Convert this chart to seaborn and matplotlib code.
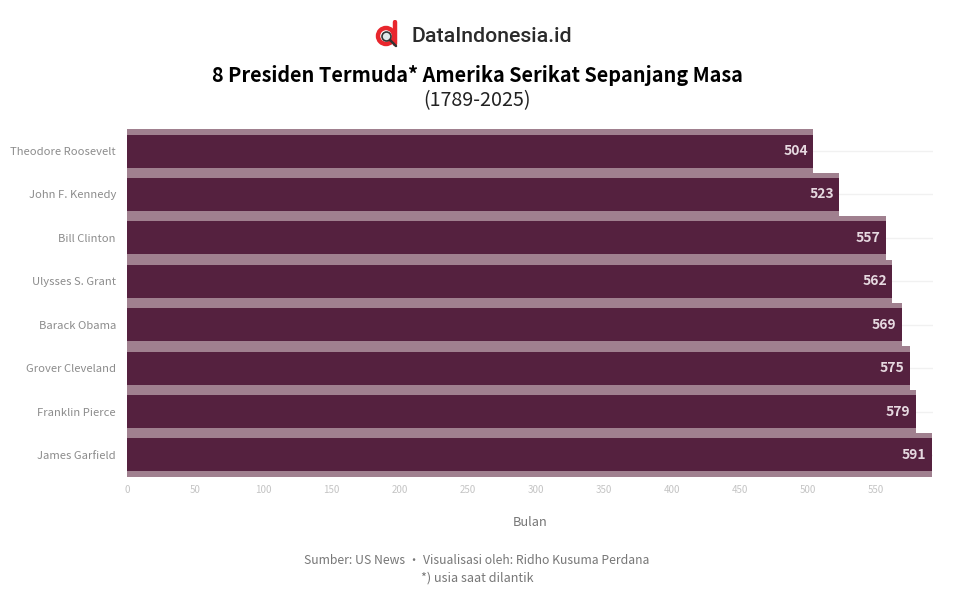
import matplotlib
matplotlib.use("Agg")
import matplotlib.pyplot as plt
from matplotlib.patches import Circle
from matplotlib.lines import Line2D
import seaborn as sns
import pandas as pd

presidents = ["Theodore Roosevelt", "John F. Kennedy", "Bill Clinton", "Ulysses S. Grant",
              "Barack Obama", "Grover Cleveland", "Franklin Pierce", "James Garfield"]
months = [504, 523, 557, 562, 569, 575, 579, 591]
x_ticks = list(range(0, 551, 50))

sns.set_theme(style="white")
plt.rcParams['font.family'] = ['Noto Sans CJK SC', 'DejaVu Sans']

W, H = 954, 596
DARK = "#55213f"
GAP = "#a0808f"
fig = plt.figure(figsize=(W/100, H/100), dpi=100, facecolor="white")
ax = fig.add_axes([127/W, 1-476.7/H, (933-127)/W, (476.7-129.3)/H])
df = pd.DataFrame({"name": presidents, "months": months})

for i in range(len(presidents)):
    ax.plot([0, 592], [i, i], color="#f1f1f1", lw=1, zorder=0)
sns.barplot(data=df, y="name", x="months", color=GAP, width=1.0, saturation=1, linewidth=0, ax=ax, zorder=2)
sns.barplot(data=df, y="name", x="months", color=DARK, width=0.76, saturation=1, linewidth=0, ax=ax, zorder=3)

for i, v in enumerate(months):
    ax.text(v-4, i, str(v), ha="right", va="center", color="#e6d9e0", fontsize=10, fontweight="bold", zorder=4)

ax.set_xlim(0, 591.8)
ax.set_ylim(7.5, -0.5)
ax.set_xticks(x_ticks)
ax.tick_params(axis="x", length=0, labelsize=7, labelcolor="#c4c4c4", pad=6)
ax.tick_params(axis="y", length=0, labelsize=8.1, labelcolor="#8c8c8c", pad=8)
ax.set_ylabel("")
ax.set_xlabel("Bulan", fontsize=9.2, color="#777777", labelpad=15)
sns.despine(ax=ax, left=True, bottom=True, top=True, right=True)

def fx(x): return x/W
def fy(y): return 1-y/H
fig.text(fx(477), fy(75), "8 Presiden Termuda* Amerika Serikat Sepanjang Masa", ha="center", va="center",
         fontsize=14.3, fontweight="bold", color="black")
fig.text(fx(477), fy(101), "(1789-2025)", ha="center", va="center", fontsize=14.2, color="#222222")
fig.text(fx(412), fy(36), "DataIndonesia.id", ha="left", va="center", fontsize=15.3, fontweight="medium",
         family="Roboto", color="#2b2b2b")
fig.text(fx(477), fy(560), "Sumber: US News • Visualisasi oleh: Ridho Kusuma Perdana", ha="center", va="center",
         fontsize=8.8, color="#777777")
fig.text(fx(477), fy(578), "*) usia saat dilantik", ha="center", va="center", fontsize=9.1, color="#777777")

# logo
logo = fig.add_axes([372/W, 1-50/H, 28/W, 30/H])
logo.set_xlim(372, 400); logo.set_ylim(50, 20); logo.axis("off")
logo.add_patch(Circle((386, 36), 8, fc="none", ec="#e8262d", lw=3.2))
logo.add_line(Line2D([394.5, 394.5], [22, 44], color="#e8262d", lw=3.2))
logo.add_patch(Circle((386.5, 36.5), 4.5, fc="#dfe8ea", ec="#333333", lw=1.2))
logo.add_line(Line2D([390, 396], [40, 46], color="#333333", lw=1.8))

fig.savefig("out.png", dpi=100)
